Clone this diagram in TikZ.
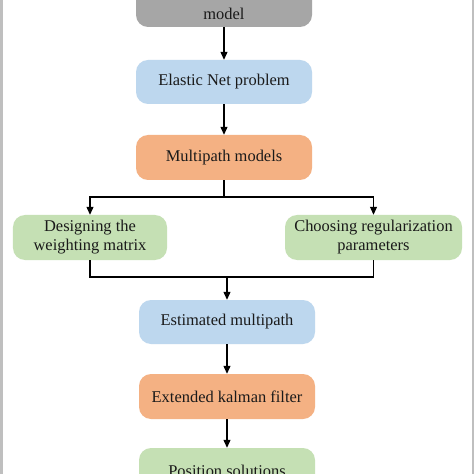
\documentclass[tikz,border=0pt]{standalone}
\usepackage{fontspec}
\setmainfont{Liberation Serif}
\usetikzlibrary{arrows.meta,positioning}
\definecolor{boxgray}{HTML}{A6A6A6}
\definecolor{boxblue}{HTML}{BDD7EE}
\definecolor{boxorange}{HTML}{F4B183}
\definecolor{boxgreen}{HTML}{C5E0B4}
\definecolor{txt}{HTML}{1A1A1A}
\definecolor{edge}{HTML}{BFBFBF}
\begin{document}
\begin{tikzpicture}[x=1bp,y=-1bp,
  flowbox/.style={rounded corners=12bp, minimum height=45bp, inner sep=2bp,
    text=txt, align=center, font=\fontsize{16.5}{19}\selectfont},
  conn/.style={line width=1.1bp, black},
  arr/.style={conn, -{Triangle[length=8bp,width=7bp]}}]
\clip (0,0) rectangle (474,474);
\fill[white] (0,0) rectangle (474,474);
\fill[edge] (0,0) rectangle (2.5,474);
\fill[edge] (471.5,0) rectangle (474,474);
% nodes
\node[flowbox, fill=boxgray, minimum width=176bp, minimum height=47bp] (top) at (224,3.5) {\strut\\model};
\node[flowbox, fill=boxblue, minimum width=176bp, minimum height=44bp] (enet) at (224,82) {Elastic Net problem};
\node[flowbox, fill=boxorange, minimum width=176bp, minimum height=45bp] (mp) at (224,157.5) {Multipath models};
\node[flowbox, fill=boxgreen, minimum width=154bp] (dw) at (90,237.5) {Designing the\\weighting matrix};
\node[flowbox, fill=boxgreen, minimum width=177bp] (cr) at (373.5,237.5) {Choosing regularization\\parameters};
\node[flowbox, fill=boxblue, minimum width=176bp, minimum height=44bp] (em) at (227,322) {Estimated multipath};
\node[flowbox, fill=boxorange, minimum width=176bp] (ekf) at (227,396.5) {Extended kalman filter};
\node[flowbox, fill=boxgreen, minimum width=176bp] (ps) at (227,470.5) {Position solutions};
% connectors
\draw[arr] (top.south) -- (enet.north);
\draw[arr] (enet.south) -- (mp.north);
\coordinate (split) at (224,197);
\draw[conn] (mp.south) -- (split);
\draw[arr] (split) -| (dw.north);
\draw[arr] (split) -| (cr.north);
\coordinate (merge) at (227,277);
\draw[conn] (dw.south) |- (merge);
\draw[conn] (cr.south) |- (merge);
\draw[arr] (merge) -- (em.north);
\draw[arr] (em.south) -- (ekf.north);
\draw[arr] (ekf.south) -- (ps.north);
\end{tikzpicture}
\end{document}
